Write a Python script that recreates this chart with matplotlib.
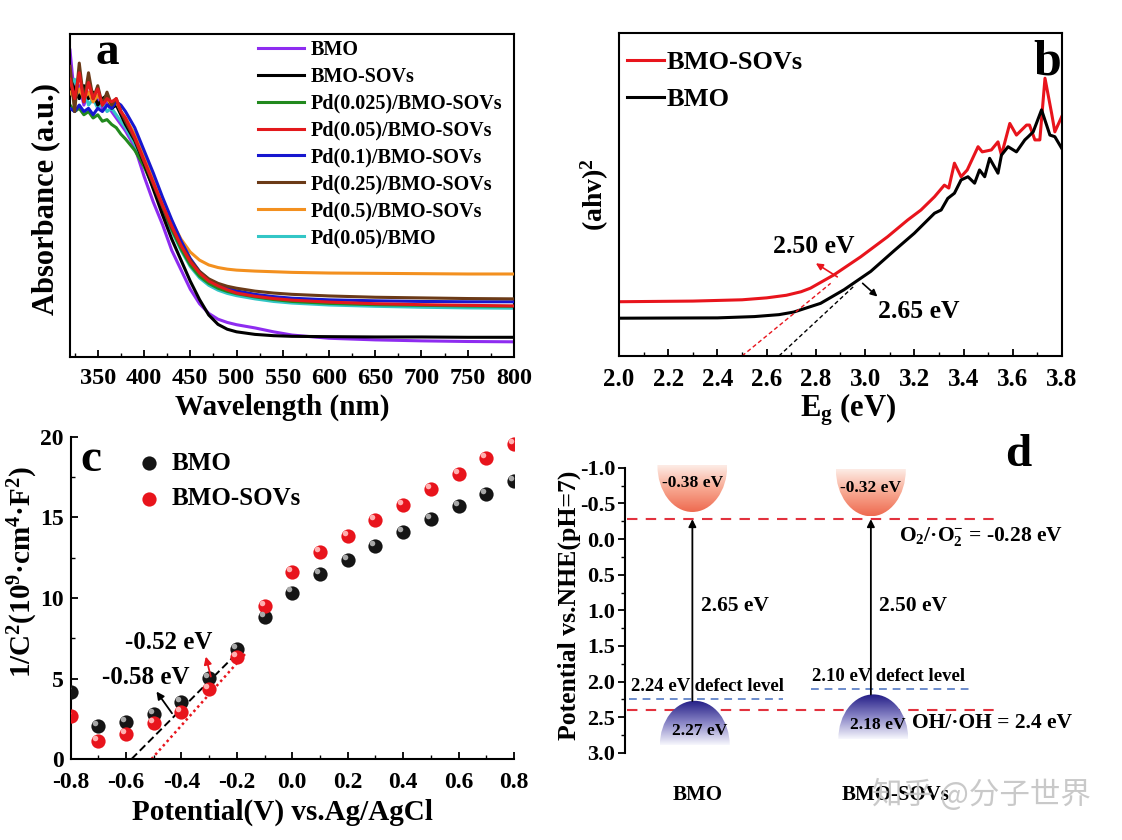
import numpy as np
import matplotlib
matplotlib.use('Agg')
import matplotlib.pyplot as plt
import matplotlib.transforms as mtransforms
from matplotlib.colors import LinearSegmentedColormap
from matplotlib.patches import Ellipse
from matplotlib.ticker import MultipleLocator, NullLocator, FixedLocator

plt.rcParams['font.family'] = ['Liberation Serif', 'DejaVu Serif']
plt.rcParams['font.weight'] = 'bold'
plt.rcParams['axes.labelweight'] = 'bold'
plt.rcParams['axes.unicode_minus'] = False
plt.rcParams['mathtext.fontset'] = 'custom'
plt.rcParams['mathtext.rm'] = 'Liberation Serif:bold'
plt.rcParams['mathtext.bf'] = 'Liberation Serif:bold'
plt.rcParams['mathtext.it'] = 'Liberation Serif:italic:bold'

# ---- panel a: UV-vis absorbance ----
wl = [320, 325, 330, 335, 340, 345, 350, 355, 360, 365, 370, 375, 380, 390, 400,
      410, 420, 430, 440, 450, 460, 470, 480, 490, 500, 520, 540, 560, 600, 650,
      700, 750, 800]
abs_bmo = [0.95, 0.80, 0.84, 0.78, 0.82, 0.79, 0.80, 0.77, 0.79, 0.76, 0.74, 0.72, 0.70,
           0.65, 0.56, 0.48, 0.41, 0.33, 0.27, 0.21, 0.165, 0.135, 0.117, 0.107, 0.100,
           0.090, 0.078, 0.068, 0.058, 0.053, 0.050, 0.048, 0.047]
abs_sov = [0.86, 0.83, 0.80, 0.84, 0.80, 0.82, 0.78, 0.80, 0.81, 0.77, 0.78, 0.75, 0.72,
           0.67, 0.60, 0.52, 0.44, 0.365, 0.30, 0.235, 0.178, 0.130, 0.101, 0.086, 0.078,
           0.070, 0.066, 0.064, 0.063, 0.062, 0.062, 0.061, 0.061]
abs_pd0025 = [0.78, 0.76, 0.77, 0.75, 0.76, 0.74, 0.75, 0.73, 0.735, 0.72, 0.71, 0.69, 0.675,
              0.64, 0.59, 0.525, 0.46, 0.395, 0.335, 0.285, 0.25, 0.228, 0.213, 0.203, 0.196,
              0.186, 0.178, 0.172, 0.166, 0.162, 0.160, 0.158, 0.157]
abs_pd005 = [0.86, 0.80, 0.88, 0.79, 0.85, 0.80, 0.83, 0.78, 0.80, 0.79, 0.80, 0.76, 0.74,
             0.68, 0.61, 0.54, 0.47, 0.405, 0.345, 0.295, 0.26, 0.235, 0.22, 0.208, 0.198,
             0.188, 0.181, 0.176, 0.170, 0.165, 0.162, 0.160, 0.158]
abs_pd01 = [0.77, 0.76, 0.78, 0.76, 0.77, 0.75, 0.77, 0.76, 0.78, 0.77, 0.79, 0.78, 0.76,
            0.71, 0.64, 0.57, 0.495, 0.425, 0.36, 0.305, 0.265, 0.24, 0.225, 0.213, 0.205,
            0.194, 0.187, 0.182, 0.177, 0.174, 0.172, 0.171, 0.171]
abs_pd025 = [0.90, 0.76, 0.91, 0.79, 0.88, 0.80, 0.84, 0.78, 0.82, 0.78, 0.80, 0.76, 0.73,
             0.675, 0.605, 0.535, 0.465, 0.40, 0.345, 0.30, 0.265, 0.242, 0.228, 0.219, 0.213,
             0.204, 0.198, 0.194, 0.189, 0.185, 0.183, 0.181, 0.180]
abs_pd05 = [0.82, 0.80, 0.83, 0.80, 0.82, 0.79, 0.81, 0.79, 0.80, 0.78, 0.79, 0.76, 0.74,
            0.69, 0.62, 0.55, 0.48, 0.42, 0.365, 0.325, 0.30, 0.285, 0.277, 0.272, 0.269,
            0.266, 0.264, 0.262, 0.260, 0.259, 0.258, 0.257, 0.257]
abs_pd005_bmo = [0.84, 0.86, 0.80, 0.83, 0.78, 0.80, 0.77, 0.79, 0.76, 0.77, 0.75, 0.73, 0.71,
                 0.66, 0.595, 0.525, 0.455, 0.39, 0.33, 0.28, 0.245, 0.222, 0.207, 0.197, 0.190,
                 0.180, 0.172, 0.167, 0.161, 0.157, 0.154, 0.152, 0.151]
names_a = ['BMO', 'BMO-SOVs', 'Pd(0.025)/BMO-SOVs', 'Pd(0.05)/BMO-SOVs', 'Pd(0.1)/BMO-SOVs',
           'Pd(0.25)/BMO-SOVs', 'Pd(0.5)/BMO-SOVs', 'Pd(0.05)/BMO']
series_a = [abs_bmo, abs_sov, abs_pd0025, abs_pd005, abs_pd01, abs_pd025, abs_pd05, abs_pd005_bmo]
colors_a = ['#8e2cf0', '#000000', '#22891e', '#e3191c', '#1717cf', '#6b3a17', '#f3901f', '#33c6c6']
zorders_a = [2, 3, 2.5, 6, 4, 5, 3.5, 2.2]

# ---- panel b: Tauc plot ----
eg_sov = [2.00, 2.30, 2.50, 2.60, 2.68, 2.74, 2.778, 2.873, 2.982, 3.091, 3.173, 3.227, 3.282,
          3.322, 3.34, 3.363, 3.390, 3.415, 3.459, 3.476, 3.513, 3.540, 3.554, 3.588, 3.615,
          3.656, 3.668, 3.690, 3.710, 3.731, 3.758, 3.771, 3.799]
ahv_sov = [0.168, 0.170, 0.174, 0.180, 0.188, 0.199, 0.210, 0.251, 0.307, 0.369, 0.421, 0.452,
           0.493, 0.529, 0.520, 0.597, 0.555, 0.576, 0.648, 0.632, 0.638, 0.663, 0.622, 0.720,
           0.684, 0.715, 0.715, 0.669, 0.669, 0.860, 0.751, 0.694, 0.741]
eg_bmo = [2.00, 2.40, 2.55, 2.65, 2.710, 2.819, 2.914, 3.023, 3.118, 3.200, 3.282, 3.309, 3.336,
          3.363, 3.390, 3.418, 3.445, 3.465, 3.486, 3.506, 3.540, 3.554, 3.581, 3.615, 3.649,
          3.663, 3.683, 3.717, 3.751, 3.771, 3.799]
ahv_bmo = [0.117, 0.118, 0.122, 0.128, 0.136, 0.163, 0.205, 0.262, 0.326, 0.380, 0.442, 0.452,
           0.488, 0.504, 0.545, 0.555, 0.535, 0.576, 0.555, 0.612, 0.566, 0.622, 0.648, 0.632,
           0.669, 0.679, 0.694, 0.762, 0.684, 0.679, 0.643]

# ---- panel c: Mott-Schottky ----
pot = [-0.8, -0.7, -0.6, -0.5, -0.4, -0.3, -0.2, -0.1, 0.0, 0.1, 0.2, 0.3, 0.4, 0.5, 0.6, 0.7, 0.8]
ms_bmo = [4.19, 2.05, 2.32, 2.78, 3.56, 5.02, 6.84, 8.79, 10.34, 11.48, 12.37, 13.22, 14.07,
          14.90, 15.71, 16.48, 17.28]
ms_sov = [2.67, 1.14, 1.55, 2.26, 2.90, 4.35, 6.32, 9.51, 11.59, 12.83, 13.82, 14.82, 15.79,
          16.77, 17.72, 18.67, 19.59]
fb_bmo = -0.58
fb_sov = -0.52

# ---- panel d: band structure ----
samples = ['BMO', 'BMO-SOVs']
cb = [-0.38, -0.32]
vb = [2.27, 2.18]
gaps = [2.65, 2.50]
defect = [2.24, 2.10]
o2_level = -0.28
oh_level = 2.4

fig = plt.figure(figsize=(11.22, 8.4), dpi=100)


def style_spines(ax, lw=1.5):
    for s in ax.spines.values():
        s.set_linewidth(lw)


# ---------------- a ----------------
ax = fig.add_axes([0.0624, 0.575, 0.3957, 0.3845])
for name, vals, col, z in zip(names_a, series_a, colors_a, zorders_a):
    ax.plot(wl, vals, color=col, lw=2.2, label=name, zorder=z)
ax.set_xlim(320, 800)
ax.set_ylim(0, 1)
ax.xaxis.set_major_locator(MultipleLocator(50))
ax.xaxis.set_minor_locator(MultipleLocator(25))
ax.yaxis.set_major_locator(NullLocator())
ax.tick_params(axis='x', which='major', direction='in', length=5, width=1.3, labelsize=17.5, pad=8)
ax.tick_params(axis='x', which='minor', direction='in', length=3, width=1.0)
style_spines(ax)
ax.set_xlabel('Wavelength (nm)', fontsize=21)
ax.xaxis.set_label_coords(0.477, -0.112)
ax.set_ylabel('Absorbance (a.u.)', fontsize=22)
ax.yaxis.set_label_coords(-0.022, 0.49)
ax.legend(loc='upper left', bbox_to_anchor=(0.41, 1.0), frameon=False, fontsize=14.5,
          handlelength=2.3, handletextpad=0.3, labelspacing=0.34, borderaxespad=0.2,
          borderpad=0.1)
ax.text(0.085, 0.94, 'a', transform=ax.transAxes, fontsize=34, ha='center', va='center')

# ---------------- b ----------------
axb = fig.add_axes([0.5517, 0.5762, 0.3948, 0.3845])
axb.plot(eg_sov, ahv_sov, color='#e8141c', lw=2.2, label='BMO-SOVs')
axb.plot(eg_bmo, ahv_bmo, color='black', lw=2.2, label='BMO')
axb.plot([2.50, 2.86], [0.0, 0.225], color='#e8141c', lw=1.0, ls=(0, (3, 2)))
axb.plot([2.65, 2.96], [0.0, 0.22], color='black', lw=1.0, ls=(0, (3, 2)))
axb.annotate('', xy=(2.80, 0.287), xytext=(2.887, 0.245),
             arrowprops=dict(arrowstyle='-|>', color='#e8141c', lw=1.2, mutation_scale=10,
                             shrinkA=0, shrinkB=0))
axb.annotate('', xy=(3.05, 0.184), xytext=(2.99, 0.225),
             arrowprops=dict(arrowstyle='-|>', color='black', lw=1.2, mutation_scale=10,
                             shrinkA=0, shrinkB=0))
axb.text(2.79, 0.338, '2.50 eV', fontsize=18.5, ha='center', va='center')
axb.text(3.22, 0.137, '2.65 eV', fontsize=18.5, ha='center', va='center')
axb.set_xlim(2.0, 3.8)
axb.set_ylim(0, 1)
axb.xaxis.set_major_locator(MultipleLocator(0.2))
axb.xaxis.set_minor_locator(MultipleLocator(0.1))
axb.xaxis.set_major_formatter(plt.FormatStrFormatter('%.1f'))
axb.yaxis.set_major_locator(NullLocator())
axb.tick_params(axis='x', which='major', direction='in', length=5, width=1.3, labelsize=18, pad=9)
axb.tick_params(axis='x', which='minor', direction='in', length=3, width=1.0)
style_spines(axb)
axb.set_xlabel(r'E$_\mathbf{g}$ (eV)', fontsize=22)
axb.xaxis.set_label_coords(0.517, -0.11)
axb.set_ylabel(r'(ahv)$^\mathbf{2}$', fontsize=20)
axb.yaxis.set_label_coords(-0.018, 0.50)
axb.legend(loc='upper left', bbox_to_anchor=(0.0, 0.97), frameon=False, fontsize=19,
           handlelength=1.4, handletextpad=0.1, labelspacing=0.5, borderaxespad=0.2,
           borderpad=0.1)
axb.text(3.74, 0.91, 'b', fontsize=36, ha='center', va='center')

# ---------------- c ----------------
axc = fig.add_axes([0.0629, 0.0964, 0.3952, 0.3834])
hl = mtransforms.ScaledTranslation(-2.2 / 72, 2.2 / 72, fig.dpi_scale_trans)
axc.scatter(pot, ms_bmo, s=105, color='#151515', zorder=3, label='BMO', linewidths=0)
axc.scatter(pot, ms_bmo, s=16, color='#a8a8a8', zorder=4, linewidths=0,
            transform=axc.transData + hl)
axc.scatter(pot, ms_sov, s=105, color='#e8141c', zorder=3, label='BMO-SOVs', linewidths=0)
axc.scatter(pot, ms_sov, s=16, color='#ffb0b0', zorder=4, linewidths=0,
            transform=axc.transData + hl)
axc.plot([fb_bmo, -0.197], [0, 6.61], color='black', lw=1.4, ls=(0, (4, 2)), zorder=2)
axc.plot([fb_sov + 0.012, -0.170], [0, 6.53], color='#e8141c', lw=1.8, ls=(0, (1, 1.3)), zorder=2)
axc.annotate('', xy=(-0.49, 4.19), xytext=(-0.434, 2.84),
             arrowprops=dict(arrowstyle='-|>', color='black', lw=1.3, mutation_scale=11,
                             shrinkA=0, shrinkB=0))
axc.annotate('', xy=(-0.312, 6.36), xytext=(-0.294, 5.12),
             arrowprops=dict(arrowstyle='-|>', color='#e8141c', lw=1.3, mutation_scale=11,
                             shrinkA=0, shrinkB=0))
axc.text(-0.446, 7.21, '%.2f eV' % fb_sov, fontsize=18, ha='center', va='center')
axc.text(-0.530, 5.04, '%.2f eV' % fb_bmo, fontsize=18, ha='center', va='center')
axc.text(-0.725, 18.6, 'c', fontsize=34, ha='center', va='center')
axc.set_xlim(-0.8, 0.8)
axc.set_ylim(0, 20)
axc.xaxis.set_major_locator(MultipleLocator(0.2))
axc.xaxis.set_minor_locator(MultipleLocator(0.1))
axc.xaxis.set_major_formatter(plt.FormatStrFormatter('%.1f'))
axc.yaxis.set_major_locator(MultipleLocator(5))
axc.yaxis.set_minor_locator(MultipleLocator(2.5))
axc.tick_params(axis='x', which='major', direction='in', length=5, width=1.3, labelsize=17, pad=9)
axc.tick_params(axis='y', which='major', direction='in', length=5, width=1.3, labelsize=17, pad=5)
axc.tick_params(which='minor', direction='in', length=3, width=1.0)
axc.spines['top'].set_visible(False)
axc.spines['right'].set_visible(False)
style_spines(axc)
axc.set_xlabel('Potential(V) vs.Ag/AgCl', fontsize=21)
axc.xaxis.set_label_coords(0.478, -0.122)
axc.set_ylabel(r'1/C$^\mathbf{2}$(10$^\mathbf{9}$·cm$^\mathbf{4}$·F$^\mathbf{2}$)', fontsize=21)
axc.yaxis.set_label_coords(-0.068, 0.58)
axc.legend(loc='upper left', bbox_to_anchor=(0.131, 0.985), frameon=False, fontsize=18,
           handlelength=0.8, handletextpad=0.5, labelspacing=0.5, borderaxespad=0.2,
           borderpad=0.2, scatterpoints=1)

# ---------------- d ----------------
axd = fig.add_axes([0.557, 0.0274, 0.4323, 0.4369])
sample_x = [1.39, 5.07]
cap_w = 0.72
cb_h = 0.65
vb_h = 0.62
cb_cmap = LinearSegmentedColormap.from_list('cb', ['#fdece6', '#f8a891', '#ee6a50'])
vb_cmap = LinearSegmentedColormap.from_list('vb', ['#f7f7fd', '#8985c6', '#221c85'])
grad = np.linspace(0, 1, 200).reshape(-1, 1)


def cap(ax, xc, y_flat, y_round, cmap):
    im = ax.imshow(grad, cmap=cmap, aspect='auto', origin='lower', interpolation='bilinear',
                   extent=(xc - cap_w, xc + cap_w, y_flat, y_round), zorder=3)
    clip = Ellipse((xc, y_flat), 2 * cap_w, 2 * abs(y_round - y_flat), transform=ax.transData)
    im.set_clip_path(clip)


red_dash = dict(color='#e2323e', lw=1.5, ls=(0, (5, 4)), zorder=2)
axd.plot([0.05, 7.71], [o2_level, o2_level], **red_dash)
axd.plot([0.04, 7.77], [oh_level, oh_level], **red_dash)
blue_dash = dict(color='#6d8ccc', lw=1.4, ls=(0, (4, 3)), zorder=2)
axd.plot([0.08, 3.26], [defect[0], defect[0]], **blue_dash)
axd.plot([3.84, 7.09], [defect[1], defect[1]], **blue_dash)

for xc, c, v, g, dl in zip(sample_x, cb, vb, gaps, defect):
    cap(axd, xc, c - cb_h, c, cb_cmap)
    cap(axd, xc + 0.05, v + vb_h, v, vb_cmap)
    axd.annotate('', xy=(xc, o2_level), xytext=(xc, v),
                 arrowprops=dict(arrowstyle='-|>', color='black', lw=1.3, mutation_scale=11,
                                 shrinkA=0, shrinkB=0), zorder=5)
    axd.text(xc, c - 0.40, '%.2f eV' % c, fontsize=12.5, ha='center', va='center', zorder=6)
    axd.text(xc + 0.15, v + 0.43, '%.2f eV' % v, fontsize=12.5, ha='center', va='center', zorder=6)
    axd.text(xc + 0.17, 0.94, '%.2f eV' % g, fontsize=15.5, ha='left', va='center', zorder=6)

axd.text(0.12, defect[0] - 0.17, '%.2f eV defect level' % defect[0], fontsize=13.5,
         ha='left', va='center', zorder=6)
axd.text(3.86, defect[1] - 0.17, '%.2f eV defect level' % defect[1], fontsize=13.5,
         ha='left', va='center', zorder=6)
axd.text(5.65, -0.03, r'O$_\mathbf{2}$/·O$_\mathbf{2}^\mathbf{-}$ = %.2f eV' % o2_level,
         fontsize=15.5, ha='left', va='center')
axd.text(5.92, 2.58, 'OH/·OH = %.1f eV' % oh_level, fontsize=15.5, ha='left', va='center')
axd.text(1.50, 3.59, samples[0], fontsize=15, ha='center', va='center')
axd.text(5.57, 3.59, samples[1], fontsize=15, ha='center', va='center')
axd.text(8.1, -1.18, 'd', fontsize=34, ha='center', va='center')

axd.set_xlim(0, 10)
axd.set_ylim(3.9, -1.25)
for s in ['top', 'right', 'bottom']:
    axd.spines[s].set_visible(False)
axd.spines['left'].set_bounds(-1.0, 3.0)
axd.spines['left'].set_linewidth(1.5)
axd.set_xticks([])
axd.yaxis.set_major_locator(FixedLocator(np.arange(-1.0, 3.01, 0.5)))
axd.yaxis.set_minor_locator(FixedLocator(np.arange(-0.75, 2.9, 0.5)))
axd.yaxis.set_major_formatter(plt.FormatStrFormatter('%.1f'))
axd.tick_params(axis='y', which='major', direction='out', length=5, width=1.3, labelsize=16, pad=2)
axd.tick_params(axis='y', which='minor', direction='out', length=3, width=1.0)
axd.set_ylabel('Potential vs.NHE(pH=7)', fontsize=18.5)
axd.yaxis.set_label_coords(-0.09, 0.576)

fig.text(0.875, 0.054, '知乎 @分子世界', fontsize=22, color='#c4c4c4', alpha=0.9,
         family=['Noto Sans CJK SC', 'DejaVu Sans'], weight='normal',
         ha='center', va='center', zorder=10)

fig.savefig('out.png', dpi=100)
